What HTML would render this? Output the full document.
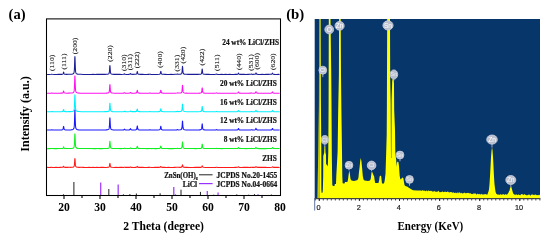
<!DOCTYPE html>
<html lang="en">
<head>
<meta charset="utf-8">
<title>XRD patterns and EDS spectrum</title>
<style>
html,body{margin:0;padding:0;background:#fff;}
body{width:550px;height:240px;overflow:hidden;}
svg{display:block;}
</style>
</head>
<body>
<svg width="550" height="240" viewBox="0 0 550 240">
<rect x="0" y="0" width="550" height="240" fill="#ffffff"/>
<g id="panel-a">
<text x="8.6" y="18.9" font-family='"Liberation Serif", serif' font-weight="700" font-size="14.6" fill="#000">(a)</text>
<line x1="63.46" y1="195.50" x2="63.46" y2="194.30" stroke="#222" stroke-width="1"/>
<line x1="73.90" y1="195.50" x2="73.90" y2="182.00" stroke="#222" stroke-width="1"/>
<line x1="108.82" y1="195.50" x2="108.82" y2="189.00" stroke="#222" stroke-width="1"/>
<line x1="123.40" y1="195.50" x2="123.40" y2="194.30" stroke="#222" stroke-width="1"/>
<line x1="129.88" y1="195.50" x2="129.88" y2="194.10" stroke="#222" stroke-width="1"/>
<line x1="136.36" y1="195.50" x2="136.36" y2="193.50" stroke="#222" stroke-width="1"/>
<line x1="160.12" y1="195.50" x2="160.12" y2="193.30" stroke="#222" stroke-width="1"/>
<line x1="175.60" y1="195.50" x2="175.60" y2="194.50" stroke="#222" stroke-width="1"/>
<line x1="181.00" y1="195.50" x2="181.00" y2="189.70" stroke="#222" stroke-width="1"/>
<line x1="200.44" y1="195.50" x2="200.44" y2="191.90" stroke="#222" stroke-width="1"/>
<line x1="213.76" y1="195.50" x2="213.76" y2="194.70" stroke="#222" stroke-width="1"/>
<line x1="236.80" y1="195.50" x2="236.80" y2="194.30" stroke="#222" stroke-width="1"/>
<line x1="248.68" y1="195.50" x2="248.68" y2="194.70" stroke="#222" stroke-width="1"/>
<line x1="254.44" y1="195.50" x2="254.44" y2="194.10" stroke="#222" stroke-width="1"/>
<line x1="271.36" y1="195.50" x2="271.36" y2="194.50" stroke="#222" stroke-width="1"/>
<line x1="100.72" y1="195.50" x2="100.72" y2="182.50" stroke="#9a30ff" stroke-width="1.2"/>
<line x1="118.18" y1="195.50" x2="118.18" y2="184.50" stroke="#9a30ff" stroke-width="1.2"/>
<line x1="173.80" y1="195.50" x2="173.80" y2="187.00" stroke="#9a30ff" stroke-width="1.2"/>
<line x1="207.28" y1="195.50" x2="207.28" y2="190.90" stroke="#9a30ff" stroke-width="1.2"/>
<line x1="218.08" y1="195.50" x2="218.08" y2="192.60" stroke="#9a30ff" stroke-width="1.2"/>
<line x1="258.04" y1="195.50" x2="258.04" y2="194.20" stroke="#9a30ff" stroke-width="1.2"/>
<path d="M47.10 74.41 L49.10 74.40 L51.10 74.34 L51.41 74.30 L51.56 74.22 L51.86 74.17 L51.96 74.25 L52.26 74.35 L54.60 74.42 L56.60 74.41 L58.60 74.37 L60.60 74.37 L61.60 74.36 L62.00 74.29 L62.10 74.33 L62.60 74.22 L62.90 74.03 L63.10 73.72 L63.25 73.22 L63.40 72.64 L63.50 72.28 L63.60 72.14 L63.70 72.27 L63.80 72.56 L63.95 73.20 L64.10 73.66 L64.30 74.01 L64.60 74.19 L65.10 74.29 L66.60 74.37 L68.60 74.32 L70.60 74.32 L71.60 74.25 L72.10 74.19 L72.51 74.07 L72.60 74.08 L73.10 73.88 L73.31 73.74 L73.60 73.42 L73.91 72.91 L74.10 72.21 L74.21 71.49 L74.41 68.74 L74.56 64.84 L74.60 63.57 L74.71 60.06 L74.81 57.54 L74.91 56.61 L75.01 57.58 L75.10 59.84 L75.11 60.19 L75.26 65.01 L75.41 68.86 L75.60 71.46 L75.61 71.53 L75.91 72.89 L76.10 73.30 L76.51 73.77 L76.60 73.80 L77.10 74.04 L77.60 74.12 L78.10 74.21 L79.10 74.28 L81.10 74.33 L83.10 74.40 L85.10 74.40 L87.10 74.43 L89.10 74.43 L91.10 74.41 L93.10 74.38 L95.10 74.42 L97.10 74.38 L99.10 74.39 L101.10 74.39 L103.10 74.39 L105.10 74.36 L106.60 74.30 L107.50 74.22 L107.60 74.21 L108.10 74.11 L108.30 74.05 L108.60 73.93 L108.90 73.65 L109.10 73.29 L109.20 72.99 L109.40 71.63 L109.55 69.68 L109.60 68.88 L109.70 67.24 L109.80 65.96 L109.90 65.50 L110.00 65.96 L110.10 67.22 L110.25 69.64 L110.40 71.61 L110.60 72.97 L110.90 73.66 L111.10 73.86 L111.50 74.09 L111.60 74.09 L112.10 74.19 L112.60 74.28 L113.60 74.36 L115.60 74.36 L117.60 74.39 L119.60 74.39 L121.60 74.41 L123.10 74.34 L124.02 74.25 L124.10 74.20 L124.17 74.08 L124.32 73.96 L124.42 73.89 L124.62 73.87 L124.72 73.95 L124.87 74.13 L125.02 74.25 L125.22 74.33 L126.12 74.40 L128.60 74.37 L129.79 74.29 L129.99 74.12 L130.10 74.04 L130.14 73.97 L130.29 73.74 L130.39 73.63 L130.60 73.64 L130.69 73.73 L130.84 73.99 L130.99 74.13 L131.10 74.23 L131.49 74.31 L132.89 74.37 L134.90 74.35 L135.70 74.27 L136.10 74.19 L136.30 74.17 L136.60 73.93 L136.80 73.46 L136.95 72.84 L137.10 72.11 L137.20 71.72 L137.30 71.55 L137.40 71.74 L137.50 72.15 L137.60 72.67 L137.65 72.89 L137.80 73.50 L138.00 73.92 L138.10 74.07 L138.30 74.15 L138.60 74.24 L138.90 74.31 L140.60 74.38 L142.60 74.39 L144.60 74.40 L146.60 74.42 L148.44 74.36 L149.54 74.34 L149.60 74.28 L149.69 74.27 L149.84 74.21 L150.04 74.11 L150.24 74.20 L150.39 74.23 L150.54 74.31 L150.60 74.32 L150.74 74.38 L153.10 74.42 L155.10 74.40 L157.10 74.40 L159.10 74.32 L159.20 74.30 L159.60 74.22 L159.80 74.13 L160.10 73.93 L160.30 73.46 L160.45 72.83 L160.60 72.00 L160.70 71.58 L160.80 71.39 L160.90 71.56 L161.00 71.94 L161.10 72.49 L161.15 72.79 L161.30 73.44 L161.50 73.88 L161.60 74.04 L161.80 74.12 L162.10 74.24 L162.60 74.29 L163.10 74.35 L165.10 74.37 L167.10 74.42 L169.10 74.41 L171.10 74.37 L173.10 74.40 L175.10 74.35 L176.81 74.34 L177.01 74.26 L177.16 74.16 L177.31 74.07 L177.41 74.00 L177.71 74.06 L177.86 74.18 L178.01 74.27 L180.10 74.27 L180.60 74.20 L180.91 74.08 L181.10 74.05 L181.51 73.70 L181.60 73.58 L181.81 73.10 L182.01 71.88 L182.10 70.93 L182.16 70.18 L182.31 67.99 L182.41 66.84 L182.51 66.37 L182.60 66.71 L182.61 66.79 L182.71 67.93 L182.86 70.08 L183.01 71.85 L183.10 72.54 L183.21 73.11 L183.51 73.75 L183.60 73.83 L184.10 74.10 L184.11 74.12 L184.60 74.20 L185.10 74.27 L186.10 74.34 L188.10 74.37 L190.10 74.37 L192.10 74.37 L194.10 74.39 L196.10 74.37 L198.10 74.39 L199.60 74.31 L200.10 74.30 L200.60 74.21 L201.10 74.00 L201.20 73.93 L201.50 73.52 L201.60 73.23 L201.70 72.72 L201.85 71.55 L202.00 70.08 L202.10 69.31 L202.20 68.95 L202.30 69.26 L202.40 69.98 L202.55 71.45 L202.60 71.95 L202.70 72.67 L202.90 73.49 L203.10 73.82 L203.20 73.94 L203.60 74.15 L204.10 74.23 L204.60 74.32 L206.60 74.39 L208.60 74.37 L210.60 74.42 L212.60 74.40 L214.60 74.42 L215.60 74.34 L215.80 74.33 L216.00 74.26 L216.15 74.22 L216.30 74.12 L216.40 74.03 L216.70 74.12 L216.85 74.23 L217.00 74.32 L217.20 74.32 L217.50 74.38 L219.60 74.40 L221.60 74.37 L223.60 74.43 L225.60 74.39 L227.60 74.42 L229.60 74.38 L231.60 74.41 L233.60 74.41 L235.60 74.36 L237.10 74.36 L237.49 74.30 L237.60 74.29 L237.79 74.20 L237.99 74.00 L238.10 73.78 L238.14 73.67 L238.29 73.32 L238.39 73.15 L238.49 73.07 L238.59 73.13 L238.60 73.16 L238.69 73.33 L238.84 73.71 L238.99 73.99 L239.10 74.08 L239.19 74.20 L239.49 74.29 L240.10 74.37 L242.10 74.37 L244.10 74.38 L246.10 74.42 L248.10 74.36 L250.10 74.35 L251.10 74.24 L251.14 74.25 L251.29 74.12 L251.49 74.05 L251.69 74.16 L251.84 74.24 L252.10 74.31 L252.49 74.39 L254.60 74.30 L255.10 74.22 L255.29 74.15 L255.49 73.93 L255.60 73.70 L255.64 73.56 L255.79 73.17 L255.89 72.98 L255.99 72.91 L256.10 72.98 L256.19 73.19 L256.34 73.61 L256.49 73.92 L256.60 74.05 L256.69 74.17 L256.99 74.30 L258.10 74.38 L260.10 74.40 L262.10 74.38 L264.10 74.41 L266.10 74.37 L268.10 74.36 L270.10 74.35 L271.60 74.29 L271.81 74.16 L272.01 73.97 L272.10 73.85 L272.16 73.68 L272.31 73.34 L272.41 73.15 L272.51 73.08 L272.60 73.14 L272.61 73.16 L272.71 73.34 L272.86 73.69 L273.01 73.95 L273.10 74.11 L273.21 74.15 L273.51 74.30 L274.60 74.37 L276.60 74.40 L278.60 74.38 L279.60 74.42" fill="none" stroke="#1c1c96" stroke-width="1.05" stroke-linejoin="round"/>
<text x="279.0" y="44.5" text-anchor="end" font-family='"Liberation Serif", serif' font-weight="700" font-size="7.3" fill="#111" stroke="#111" stroke-width="0.2">24 wt% LiCl/ZHS</text>
<path d="M47.10 93.23 L49.10 93.17 L51.10 93.18 L51.26 93.16 L51.41 93.07 L51.56 93.01 L52.11 93.06 L52.26 93.14 L53.36 93.21 L55.60 93.21 L57.60 93.21 L59.60 93.21 L61.10 93.14 L62.10 93.13 L62.60 93.04 L62.90 92.85 L63.10 92.50 L63.25 92.05 L63.40 91.47 L63.50 91.14 L63.60 91.00 L63.70 91.11 L63.80 91.41 L63.95 91.99 L64.10 92.48 L64.30 92.85 L64.60 92.98 L65.10 93.10 L66.60 93.16 L68.60 93.14 L70.60 93.10 L71.41 93.03 L71.60 93.02 L72.10 92.94 L72.60 92.87 L73.10 92.66 L73.31 92.53 L73.60 92.24 L73.91 91.75 L74.10 91.07 L74.21 90.39 L74.41 87.71 L74.56 83.85 L74.60 82.63 L74.71 79.14 L74.81 76.72 L74.91 75.78 L75.01 76.79 L75.10 79.01 L75.11 79.27 L75.26 83.97 L75.41 87.79 L75.60 90.31 L75.61 90.39 L75.91 91.75 L76.10 92.11 L76.51 92.57 L76.60 92.63 L77.10 92.85 L77.60 92.95 L78.10 93.04 L79.60 93.14 L81.60 93.16 L83.60 93.17 L85.60 93.17 L87.60 93.17 L89.60 93.21 L91.60 93.22 L93.60 93.18 L95.60 93.18 L97.60 93.20 L99.60 93.18 L101.60 93.20 L103.60 93.18 L105.60 93.17 L106.10 93.11 L107.10 93.11 L107.50 93.02 L107.60 93.04 L108.10 92.91 L108.30 92.87 L108.60 92.71 L108.90 92.48 L109.10 92.09 L109.20 91.81 L109.40 90.47 L109.55 88.55 L109.60 87.77 L109.70 86.23 L109.80 84.99 L109.90 84.51 L110.00 84.97 L110.10 86.22 L110.25 88.59 L110.40 90.48 L110.60 91.78 L110.90 92.44 L111.10 92.69 L111.50 92.87 L111.60 92.89 L112.10 93.05 L112.30 93.03 L112.60 93.10 L114.60 93.16 L116.60 93.18 L118.60 93.19 L120.60 93.19 L122.60 93.21 L123.60 93.14 L123.82 93.14 L124.02 93.02 L124.17 92.92 L124.32 92.80 L124.42 92.70 L124.72 92.76 L124.87 92.89 L125.02 93.02 L125.10 93.06 L125.22 93.13 L126.60 93.20 L128.60 93.18 L129.60 93.09 L129.79 93.08 L129.99 92.96 L130.10 92.83 L130.14 92.79 L130.29 92.59 L130.39 92.47 L130.60 92.45 L130.69 92.54 L130.84 92.79 L130.99 92.93 L131.10 93.05 L131.49 93.12 L133.10 93.19 L134.90 93.12 L136.10 93.03 L136.30 92.98 L136.60 92.73 L136.80 92.34 L136.95 91.68 L137.10 90.96 L137.20 90.55 L137.30 90.39 L137.40 90.57 L137.50 90.97 L137.60 91.50 L137.65 91.77 L137.80 92.36 L138.00 92.77 L138.10 92.85 L138.30 92.97 L138.60 93.05 L138.90 93.07 L139.10 93.14 L140.60 93.20 L142.60 93.18 L144.60 93.20 L146.60 93.22 L148.60 93.22 L149.54 93.11 L149.60 93.10 L149.69 93.03 L149.94 92.97 L150.24 92.99 L150.39 93.07 L150.54 93.14 L150.60 93.11 L150.74 93.18 L153.10 93.17 L155.10 93.17 L157.10 93.16 L159.10 93.12 L159.20 93.11 L159.60 93.04 L159.80 92.96 L160.10 92.71 L160.30 92.27 L160.45 91.63 L160.60 90.83 L160.70 90.43 L160.80 90.24 L160.90 90.39 L161.00 90.79 L161.10 91.34 L161.15 91.62 L161.30 92.25 L161.50 92.69 L161.60 92.84 L161.80 92.93 L162.10 93.07 L163.10 93.13 L165.10 93.20 L167.10 93.18 L169.10 93.18 L171.10 93.19 L173.10 93.21 L175.10 93.15 L176.81 93.10 L177.01 93.04 L177.10 93.03 L177.16 92.96 L177.31 92.87 L177.41 92.79 L177.71 92.84 L177.86 92.94 L178.01 93.01 L178.10 93.09 L180.10 93.07 L180.11 93.08 L180.60 93.01 L180.91 92.89 L181.10 92.84 L181.51 92.54 L181.60 92.45 L181.81 91.95 L182.01 90.77 L182.10 89.81 L182.16 89.07 L182.31 86.95 L182.41 85.78 L182.51 85.37 L182.60 85.68 L182.61 85.77 L182.71 86.91 L182.86 89.01 L183.01 90.72 L183.10 91.38 L183.21 91.93 L183.51 92.52 L183.60 92.62 L184.10 92.92 L184.11 92.88 L184.60 93.05 L185.60 93.15 L186.60 93.12 L187.10 93.19 L189.10 93.20 L191.10 93.20 L193.10 93.17 L195.10 93.21 L197.10 93.17 L199.10 93.17 L199.60 93.10 L200.10 93.10 L200.60 93.02 L201.10 92.80 L201.20 92.75 L201.50 92.36 L201.60 92.02 L201.70 91.57 L201.85 90.41 L202.00 88.97 L202.10 88.19 L202.20 87.88 L202.30 88.15 L202.40 88.91 L202.55 90.35 L202.60 90.80 L202.70 91.49 L202.90 92.32 L203.10 92.64 L203.20 92.77 L203.60 92.95 L203.80 92.98 L204.10 93.05 L204.60 93.13 L206.60 93.18 L208.60 93.21 L210.60 93.21 L212.60 93.18 L214.60 93.16 L216.10 93.06 L216.15 93.02 L216.30 92.95 L216.40 92.88 L216.60 92.86 L216.70 92.92 L216.85 93.01 L217.00 93.09 L217.50 93.18 L219.60 93.20 L221.60 93.19 L223.60 93.20 L225.60 93.20 L227.60 93.21 L229.60 93.20 L231.60 93.19 L233.60 93.17 L235.60 93.16 L237.49 93.09 L237.60 93.06 L237.79 92.97 L237.99 92.79 L238.10 92.60 L238.14 92.48 L238.29 92.17 L238.39 91.96 L238.60 92.00 L238.69 92.12 L238.84 92.51 L238.99 92.81 L239.10 92.93 L239.19 92.99 L239.49 93.12 L240.60 93.18 L242.60 93.21 L244.60 93.22 L246.60 93.20 L248.60 93.18 L250.60 93.14 L250.79 93.15 L250.99 93.07 L251.14 93.03 L251.29 92.96 L251.60 92.89 L251.69 92.95 L251.84 93.04 L251.99 93.10 L253.09 93.18 L254.60 93.15 L254.99 93.05 L255.29 92.99 L255.49 92.76 L255.60 92.48 L255.64 92.40 L255.79 92.02 L255.89 91.82 L255.99 91.74 L256.09 91.82 L256.10 91.80 L256.19 92.03 L256.34 92.44 L256.49 92.71 L256.60 92.87 L256.69 92.98 L256.99 93.05 L257.59 93.13 L259.10 93.20 L261.10 93.17 L263.10 93.22 L265.10 93.22 L267.10 93.17 L269.10 93.18 L271.10 93.13 L271.60 93.10 L271.81 92.98 L272.01 92.78 L272.10 92.61 L272.16 92.52 L272.31 92.13 L272.41 91.97 L272.51 91.90 L272.60 91.93 L272.61 91.99 L272.71 92.13 L272.86 92.49 L273.01 92.80 L273.10 92.88 L273.21 93.00 L273.51 93.09 L274.11 93.17 L276.60 93.20 L278.60 93.17 L279.60 93.18" fill="none" stroke="#ff10f0" stroke-width="1.05" stroke-linejoin="round"/>
<text x="276.8" y="86.1" text-anchor="end" font-family='"Liberation Serif", serif' font-weight="700" font-size="7.3" fill="#111" stroke="#111" stroke-width="0.2">20 wt% LiCl/ZHS</text>
<path d="M47.10 111.71 L49.10 111.68 L51.10 111.68 L51.26 111.61 L51.56 111.53 L52.26 111.62 L52.76 111.68 L55.10 111.69 L57.10 111.71 L59.10 111.69 L61.10 111.66 L61.60 111.67 L62.00 111.60 L62.10 111.61 L62.60 111.50 L62.90 111.36 L63.10 111.06 L63.25 110.58 L63.40 109.99 L63.50 109.66 L63.60 109.53 L63.70 109.67 L63.80 109.97 L63.95 110.56 L64.10 111.00 L64.30 111.35 L64.60 111.52 L65.10 111.62 L66.10 111.61 L66.60 111.67 L68.60 111.63 L70.60 111.63 L71.10 111.56 L72.10 111.46 L72.60 111.37 L73.10 111.18 L73.31 111.06 L73.60 110.76 L73.91 110.27 L74.10 109.58 L74.21 108.91 L74.41 106.34 L74.56 102.62 L74.60 101.37 L74.71 97.97 L74.81 95.62 L74.91 94.71 L75.01 95.65 L75.10 97.84 L75.11 98.09 L75.26 102.71 L75.41 106.42 L75.60 108.89 L75.61 108.96 L75.91 110.27 L76.10 110.62 L76.51 111.09 L76.60 111.11 L77.10 111.36 L77.60 111.45 L78.10 111.53 L79.60 111.60 L81.10 111.68 L83.10 111.68 L85.10 111.68 L87.10 111.71 L89.10 111.68 L91.10 111.70 L93.10 111.73 L95.10 111.70 L97.10 111.69 L99.10 111.69 L101.10 111.66 L103.10 111.68 L105.10 111.64 L107.10 111.61 L107.60 111.52 L108.10 111.42 L108.30 111.38 L108.60 111.24 L108.90 110.98 L109.10 110.65 L109.20 110.34 L109.40 109.05 L109.55 107.16 L109.60 106.42 L109.70 104.87 L109.80 103.67 L109.90 103.20 L110.00 103.69 L110.10 104.90 L110.25 107.15 L110.40 109.04 L110.60 110.35 L110.90 110.97 L111.10 111.15 L111.50 111.40 L111.60 111.41 L112.10 111.53 L112.60 111.61 L114.60 111.66 L116.60 111.65 L118.60 111.70 L120.60 111.71 L122.60 111.66 L123.60 111.67 L123.82 111.59 L124.02 111.55 L124.10 111.48 L124.17 111.41 L124.32 111.26 L124.52 111.19 L124.72 111.26 L124.87 111.40 L125.02 111.56 L125.22 111.63 L126.60 111.71 L128.60 111.65 L129.79 111.59 L129.99 111.46 L130.10 111.35 L130.14 111.31 L130.29 111.08 L130.39 110.99 L130.60 110.97 L130.69 111.10 L130.84 111.27 L130.99 111.47 L131.10 111.55 L131.19 111.54 L131.49 111.64 L133.60 111.64 L135.60 111.60 L135.70 111.62 L136.10 111.54 L136.30 111.49 L136.60 111.24 L136.80 110.83 L136.95 110.25 L137.10 109.47 L137.20 109.13 L137.30 108.98 L137.40 109.16 L137.50 109.55 L137.60 110.01 L137.65 110.28 L137.80 110.88 L138.00 111.26 L138.10 111.37 L138.30 111.45 L138.60 111.58 L138.90 111.57 L139.10 111.64 L141.10 111.69 L143.10 111.66 L145.10 111.67 L147.10 111.72 L149.10 111.69 L149.34 111.66 L149.54 111.59 L149.84 111.51 L150.04 111.43 L150.24 111.52 L150.39 111.59 L150.74 111.67 L153.10 111.68 L155.10 111.70 L157.10 111.71 L158.10 111.64 L158.60 111.66 L159.10 111.58 L159.60 111.54 L159.80 111.46 L160.10 111.23 L160.30 110.83 L160.45 110.18 L160.60 109.40 L160.70 108.98 L160.80 108.83 L160.90 108.94 L161.00 109.34 L161.10 109.86 L161.15 110.15 L161.30 110.77 L161.50 111.23 L161.60 111.32 L161.80 111.48 L162.40 111.56 L163.10 111.64 L165.10 111.70 L167.10 111.72 L169.10 111.72 L171.10 111.68 L173.10 111.72 L175.10 111.70 L176.10 111.64 L177.01 111.58 L177.10 111.49 L177.16 111.45 L177.31 111.38 L177.51 111.27 L177.71 111.34 L177.86 111.45 L178.01 111.55 L178.51 111.62 L180.10 111.56 L180.11 111.53 L180.60 111.46 L181.01 111.38 L181.10 111.33 L181.51 111.06 L181.60 110.94 L181.81 110.49 L182.01 109.31 L182.10 108.40 L182.16 107.68 L182.31 105.60 L182.41 104.45 L182.51 104.03 L182.60 104.35 L182.61 104.44 L182.71 105.51 L182.86 107.58 L183.01 109.25 L183.10 109.96 L183.21 110.44 L183.51 111.06 L183.60 111.13 L184.10 111.42 L184.11 111.41 L184.60 111.50 L185.10 111.60 L186.60 111.66 L188.60 111.67 L190.60 111.69 L192.60 111.71 L194.60 111.71 L196.60 111.68 L198.60 111.65 L200.10 111.59 L200.60 111.52 L201.10 111.35 L201.20 111.26 L201.50 110.88 L201.60 110.56 L201.70 110.12 L201.85 108.99 L202.00 107.55 L202.10 106.84 L202.20 106.51 L202.30 106.78 L202.40 107.51 L202.55 108.88 L202.60 109.35 L202.70 110.03 L202.90 110.87 L203.10 111.20 L203.20 111.24 L203.60 111.46 L203.80 111.53 L204.60 111.61 L205.60 111.68 L207.60 111.69 L209.60 111.67 L211.60 111.68 L213.60 111.67 L215.60 111.67 L216.00 111.59 L216.15 111.50 L216.30 111.40 L216.70 111.43 L216.85 111.51 L217.00 111.61 L217.50 111.68 L219.60 111.72 L221.60 111.72 L223.60 111.68 L225.60 111.67 L227.60 111.70 L229.60 111.67 L231.60 111.70 L233.60 111.67 L235.60 111.69 L236.89 111.62 L237.60 111.56 L237.79 111.46 L237.99 111.31 L238.10 111.11 L238.14 111.01 L238.29 110.70 L238.39 110.51 L238.49 110.40 L238.59 110.47 L238.60 110.50 L238.69 110.70 L238.84 110.99 L238.99 111.28 L239.10 111.41 L239.19 111.46 L239.49 111.57 L240.09 111.67 L242.10 111.68 L244.10 111.72 L246.10 111.68 L248.10 111.68 L250.10 111.68 L251.10 111.57 L251.29 111.47 L251.49 111.41 L251.69 111.44 L251.84 111.51 L251.99 111.62 L253.10 111.69 L254.60 111.63 L255.10 111.57 L255.29 111.44 L255.49 111.24 L255.60 110.99 L255.64 110.93 L255.79 110.53 L255.89 110.34 L255.99 110.28 L256.10 110.33 L256.19 110.55 L256.34 110.91 L256.49 111.23 L256.60 111.40 L256.69 111.46 L256.99 111.55 L257.59 111.62 L258.60 111.69 L260.60 111.71 L262.60 111.67 L264.60 111.69 L266.60 111.72 L268.60 111.71 L270.60 111.69 L271.51 111.61 L271.81 111.52 L272.01 111.31 L272.10 111.13 L272.16 111.01 L272.31 110.70 L272.41 110.51 L272.51 110.41 L272.60 110.49 L272.61 110.46 L272.71 110.69 L272.86 110.99 L273.01 111.30 L273.10 111.42 L273.21 111.50 L273.51 111.61 L273.60 111.59 L274.10 111.67 L276.10 111.67 L278.10 111.71 L279.60 111.69" fill="none" stroke="#00f0ff" stroke-width="1.05" stroke-linejoin="round"/>
<text x="276.8" y="105.4" text-anchor="end" font-family='"Liberation Serif", serif' font-weight="700" font-size="7.3" fill="#111" stroke="#111" stroke-width="0.2">16 wt% LiCl/ZHS</text>
<path d="M47.10 129.99 L49.10 129.98 L51.10 129.98 L51.41 129.89 L51.60 129.78 L52.10 129.84 L52.11 129.85 L52.26 129.94 L54.60 130.01 L56.60 130.01 L58.60 130.01 L60.60 129.97 L61.60 129.92 L62.00 129.86 L62.10 129.87 L62.60 129.67 L62.90 129.41 L63.10 128.85 L63.25 128.09 L63.40 127.10 L63.50 126.56 L63.60 126.37 L63.70 126.57 L63.80 127.03 L63.95 128.01 L64.10 128.84 L64.30 129.41 L64.60 129.65 L65.10 129.82 L65.60 129.90 L67.60 129.92 L69.60 129.90 L71.10 129.88 L71.41 129.80 L71.60 129.81 L72.10 129.71 L72.51 129.63 L72.60 129.60 L73.10 129.38 L73.31 129.24 L73.60 128.93 L73.91 128.33 L74.10 127.53 L74.21 126.74 L74.41 123.66 L74.56 119.26 L74.60 117.88 L74.71 113.85 L74.81 111.07 L74.91 109.99 L75.01 111.11 L75.10 113.68 L75.11 114.00 L75.26 119.39 L75.41 123.75 L75.60 126.68 L75.61 126.79 L75.91 128.34 L76.10 128.75 L76.51 129.26 L76.60 129.34 L77.10 129.60 L77.31 129.67 L77.60 129.71 L78.10 129.79 L78.60 129.86 L80.60 129.94 L82.60 129.96 L84.60 129.96 L86.60 129.99 L88.60 130.01 L90.60 130.01 L92.60 130.02 L94.60 130.02 L96.60 129.98 L98.60 129.99 L100.60 130.00 L102.60 129.97 L104.60 129.97 L106.10 129.94 L106.40 129.88 L107.50 129.81 L107.60 129.76 L108.10 129.61 L108.30 129.52 L108.60 129.36 L108.90 128.95 L109.10 128.45 L109.20 128.01 L109.40 126.17 L109.55 123.53 L109.60 122.40 L109.70 120.22 L109.80 118.47 L109.90 117.80 L110.00 118.47 L110.10 120.18 L110.25 123.52 L110.40 126.19 L110.60 128.02 L110.90 128.96 L111.10 129.22 L111.50 129.53 L111.60 129.57 L112.10 129.72 L112.30 129.79 L112.60 129.83 L113.10 129.90 L115.10 129.97 L117.10 130.00 L119.10 130.01 L121.10 129.99 L123.10 129.95 L123.60 129.88 L123.82 129.87 L124.02 129.72 L124.10 129.62 L124.17 129.51 L124.32 129.28 L124.42 129.16 L124.62 129.15 L124.72 129.25 L124.87 129.50 L125.02 129.69 L125.10 129.76 L125.22 129.82 L125.52 129.91 L125.60 129.91 L126.10 129.98 L128.10 129.97 L129.10 129.94 L129.49 129.86 L129.60 129.84 L129.79 129.78 L129.99 129.53 L130.10 129.33 L130.14 129.22 L130.29 128.84 L130.39 128.63 L130.49 128.54 L130.59 128.63 L130.60 128.66 L130.69 128.85 L130.84 129.19 L130.99 129.53 L131.10 129.70 L131.19 129.73 L131.49 129.88 L132.10 129.94 L134.10 129.94 L135.10 129.93 L135.60 129.86 L135.70 129.82 L136.10 129.74 L136.30 129.64 L136.60 129.33 L136.80 128.74 L136.95 127.81 L137.10 126.74 L137.20 126.22 L137.30 125.98 L137.40 126.24 L137.50 126.83 L137.60 127.51 L137.65 127.89 L137.80 128.74 L138.00 129.38 L138.10 129.48 L138.30 129.69 L138.60 129.80 L139.10 129.91 L140.80 129.97 L143.10 129.96 L145.10 130.00 L147.10 130.00 L149.10 129.96 L149.54 129.93 L149.60 129.85 L149.84 129.77 L150.04 129.70 L150.14 129.71 L150.24 129.78 L150.39 129.87 L150.60 129.90 L150.74 129.97 L153.10 129.98 L155.10 130.01 L157.10 130.00 L158.10 129.94 L159.20 129.84 L159.60 129.77 L159.80 129.66 L160.10 129.39 L160.30 128.87 L160.45 128.05 L160.60 127.04 L160.70 126.46 L160.80 126.25 L160.90 126.48 L161.00 126.99 L161.10 127.66 L161.15 127.99 L161.30 128.80 L161.50 129.39 L161.60 129.54 L161.80 129.71 L162.10 129.79 L162.40 129.87 L163.10 129.93 L163.20 129.91 L163.60 129.98 L165.60 129.98 L167.60 129.96 L169.60 129.98 L171.60 129.98 L173.60 129.96 L175.60 129.97 L176.81 129.93 L177.01 129.84 L177.10 129.79 L177.16 129.70 L177.31 129.61 L177.51 129.54 L177.61 129.56 L177.71 129.63 L177.86 129.75 L178.01 129.79 L178.10 129.85 L178.60 129.92 L179.91 129.84 L180.60 129.76 L180.91 129.64 L181.10 129.60 L181.51 129.26 L181.60 129.10 L181.81 128.52 L182.01 127.20 L182.10 126.10 L182.16 125.24 L182.31 122.78 L182.41 121.53 L182.51 121.00 L182.60 121.36 L182.61 121.48 L182.71 122.76 L182.86 125.21 L183.01 127.17 L183.10 127.94 L183.21 128.52 L183.51 129.25 L183.60 129.34 L184.10 129.68 L184.11 129.66 L184.60 129.77 L184.91 129.83 L186.01 129.90 L186.60 129.97 L188.60 130.00 L190.60 129.97 L192.60 129.97 L194.60 130.00 L196.60 129.97 L198.60 129.97 L199.10 129.96 L199.60 129.88 L200.60 129.80 L201.10 129.56 L201.20 129.47 L201.50 129.03 L201.60 128.69 L201.70 128.13 L201.85 126.82 L202.00 125.13 L202.10 124.28 L202.20 123.88 L202.30 124.21 L202.40 125.06 L202.55 126.71 L202.60 127.22 L202.70 128.04 L202.90 128.99 L203.10 129.39 L203.20 129.47 L203.60 129.72 L204.10 129.82 L204.60 129.88 L205.10 129.94 L207.10 129.97 L209.10 129.99 L211.10 129.96 L213.10 130.01 L215.10 129.95 L215.80 129.95 L216.00 129.86 L216.10 129.79 L216.15 129.80 L216.30 129.70 L216.40 129.60 L216.60 129.59 L216.70 129.68 L216.85 129.78 L217.00 129.89 L217.50 129.98 L217.60 129.95 L218.10 130.01 L220.10 130.02 L222.10 129.97 L224.10 130.01 L226.10 129.98 L228.10 130.02 L230.10 129.98 L232.10 130.01 L234.10 130.01 L236.09 129.95 L237.49 129.85 L237.60 129.86 L237.79 129.74 L237.99 129.50 L238.10 129.32 L238.14 129.24 L238.29 128.82 L238.39 128.56 L238.59 128.55 L238.60 128.62 L238.69 128.78 L238.84 129.22 L238.99 129.54 L239.10 129.67 L239.19 129.78 L239.49 129.88 L239.60 129.87 L240.09 129.93 L240.60 129.94 L240.89 130.00 L243.10 130.01 L245.10 129.96 L247.10 129.99 L249.10 129.97 L250.99 129.90 L251.10 129.80 L251.14 129.78 L251.29 129.69 L251.69 129.73 L251.84 129.80 L251.99 129.88 L252.49 129.98 L254.39 129.92 L255.10 129.83 L255.29 129.69 L255.49 129.47 L255.60 129.21 L255.64 129.09 L255.79 128.65 L255.89 128.36 L255.99 128.33 L256.09 128.39 L256.10 128.39 L256.19 128.65 L256.34 129.09 L256.49 129.48 L256.60 129.65 L256.69 129.74 L256.99 129.88 L257.10 129.86 L257.59 129.92 L257.60 129.91 L258.10 129.99 L260.10 129.96 L262.10 129.99 L264.10 129.99 L266.10 130.00 L268.10 130.00 L270.10 129.99 L271.51 129.87 L271.60 129.87 L271.81 129.78 L272.01 129.51 L272.10 129.35 L272.16 129.21 L272.31 128.80 L272.41 128.57 L272.51 128.52 L272.60 128.58 L272.61 128.56 L272.71 128.79 L272.86 129.19 L273.01 129.51 L273.10 129.63 L273.21 129.73 L273.51 129.90 L274.11 129.92 L274.60 129.99 L276.60 129.99 L278.60 129.97 L279.60 130.00" fill="none" stroke="#1818ff" stroke-width="1.05" stroke-linejoin="round"/>
<text x="276.8" y="123.2" text-anchor="end" font-family='"Liberation Serif", serif' font-weight="700" font-size="7.3" fill="#111" stroke="#111" stroke-width="0.2">12 wt% LiCl/ZHS</text>
<path d="M47.10 148.60 L49.10 148.61 L51.10 148.56 L51.41 148.52 L51.56 148.44 L51.86 148.41 L51.96 148.48 L52.11 148.48 L52.26 148.56 L54.60 148.61 L56.60 148.60 L58.60 148.56 L60.60 148.59 L62.10 148.52 L62.60 148.42 L62.90 148.29 L63.10 148.04 L63.25 147.61 L63.40 147.12 L63.50 146.85 L63.60 146.72 L63.70 146.84 L63.80 147.09 L63.95 147.57 L64.10 148.00 L64.30 148.28 L64.60 148.43 L65.20 148.50 L66.10 148.58 L68.10 148.54 L70.10 148.51 L72.10 148.43 L72.51 148.33 L72.60 148.31 L73.10 148.16 L73.31 148.07 L73.60 147.79 L73.91 147.35 L74.10 146.77 L74.21 146.16 L74.41 143.89 L74.56 140.65 L74.60 139.64 L74.71 136.67 L74.81 134.57 L74.91 133.83 L75.01 134.61 L75.10 136.53 L75.11 136.78 L75.26 140.78 L75.41 143.99 L75.60 146.12 L75.61 146.21 L75.91 147.35 L76.10 147.67 L76.51 148.08 L76.60 148.11 L77.10 148.27 L77.60 148.37 L78.10 148.47 L79.60 148.54 L81.60 148.57 L83.60 148.58 L85.60 148.59 L87.60 148.58 L89.60 148.59 L91.60 148.58 L93.60 148.63 L95.60 148.62 L97.60 148.60 L99.60 148.61 L101.60 148.61 L103.60 148.55 L105.60 148.53 L106.60 148.56 L107.10 148.49 L108.10 148.39 L108.30 148.34 L108.60 148.19 L108.90 147.98 L109.10 147.67 L109.20 147.42 L109.40 146.25 L109.55 144.67 L109.60 143.98 L109.70 142.68 L109.80 141.59 L109.90 141.17 L110.00 141.61 L110.10 142.69 L110.25 144.67 L110.40 146.26 L110.60 147.42 L110.90 147.97 L111.10 148.16 L111.50 148.33 L111.60 148.34 L112.10 148.45 L112.60 148.52 L114.60 148.54 L116.60 148.57 L118.60 148.59 L120.60 148.61 L122.60 148.56 L123.60 148.56 L123.82 148.50 L124.10 148.44 L124.17 148.37 L124.32 148.24 L124.52 148.14 L124.62 148.16 L124.72 148.26 L124.87 148.39 L125.02 148.46 L125.10 148.52 L126.10 148.58 L128.10 148.57 L129.60 148.50 L129.79 148.46 L129.99 148.39 L130.10 148.31 L130.14 148.27 L130.29 148.04 L130.39 147.99 L130.49 147.93 L130.60 147.99 L130.69 148.06 L130.84 148.26 L130.99 148.38 L131.10 148.45 L131.19 148.49 L131.49 148.55 L133.60 148.55 L135.60 148.53 L136.10 148.47 L136.30 148.41 L136.60 148.24 L136.80 147.85 L136.95 147.32 L137.10 146.69 L137.20 146.33 L137.30 146.26 L137.40 146.37 L137.50 146.73 L137.60 147.14 L137.65 147.34 L137.80 147.85 L138.00 148.25 L138.10 148.32 L138.30 148.39 L138.60 148.44 L138.90 148.54 L141.10 148.56 L143.10 148.60 L145.10 148.58 L147.10 148.61 L149.10 148.56 L149.69 148.50 L149.84 148.41 L150.24 148.43 L150.39 148.50 L151.04 148.60 L153.10 148.59 L155.10 148.60 L157.10 148.60 L158.40 148.54 L159.60 148.46 L159.80 148.39 L160.10 148.17 L160.30 147.81 L160.45 147.27 L160.60 146.60 L160.70 146.21 L160.80 146.07 L160.90 146.20 L161.00 146.54 L161.10 147.00 L161.15 147.25 L161.30 147.82 L161.50 148.18 L161.60 148.26 L161.80 148.40 L162.10 148.46 L162.60 148.51 L163.10 148.58 L165.10 148.58 L167.10 148.60 L169.10 148.62 L171.10 148.58 L173.10 148.62 L174.60 148.56 L176.60 148.55 L177.01 148.47 L177.10 148.40 L177.16 148.42 L177.31 148.29 L177.71 148.28 L177.86 148.40 L178.10 148.51 L180.10 148.47 L180.11 148.50 L180.60 148.41 L180.91 148.35 L181.01 148.29 L181.10 148.29 L181.51 148.03 L181.60 147.93 L181.81 147.53 L182.01 146.52 L182.10 145.72 L182.16 145.05 L182.31 143.27 L182.41 142.32 L182.51 141.91 L182.60 142.25 L182.61 142.27 L182.71 143.22 L182.86 145.03 L183.01 146.49 L183.10 147.05 L183.21 147.49 L183.51 148.02 L183.60 148.10 L184.10 148.37 L184.11 148.36 L184.60 148.47 L185.10 148.48 L185.60 148.55 L187.60 148.56 L189.60 148.60 L191.60 148.58 L193.60 148.56 L195.60 148.61 L197.60 148.59 L199.60 148.52 L200.60 148.46 L201.10 148.29 L201.20 148.23 L201.50 147.85 L201.60 147.59 L201.70 147.22 L201.85 146.24 L202.00 144.98 L202.10 144.37 L202.20 144.10 L202.30 144.32 L202.40 144.97 L202.55 146.18 L202.60 146.55 L202.70 147.17 L202.90 147.83 L203.10 148.15 L203.20 148.23 L203.60 148.36 L203.80 148.43 L204.60 148.51 L205.70 148.58 L208.10 148.57 L210.10 148.59 L212.10 148.58 L214.10 148.57 L216.00 148.51 L216.10 148.45 L216.15 148.46 L216.30 148.37 L216.40 148.31 L216.70 148.35 L216.85 148.43 L217.00 148.51 L217.50 148.58 L219.60 148.59 L221.60 148.61 L223.60 148.58 L225.60 148.60 L227.60 148.58 L229.60 148.60 L231.60 148.58 L233.60 148.58 L235.60 148.58 L237.10 148.57 L237.49 148.50 L237.79 148.40 L237.99 148.26 L238.10 148.07 L238.14 148.04 L238.29 147.69 L238.39 147.56 L238.60 147.58 L238.69 147.72 L238.84 148.03 L238.99 148.25 L239.10 148.36 L239.19 148.40 L239.49 148.53 L239.60 148.50 L240.09 148.58 L242.10 148.57 L244.10 148.59 L246.10 148.60 L248.10 148.59 L250.10 148.55 L250.79 148.56 L250.99 148.48 L251.29 148.40 L251.49 148.32 L251.69 148.39 L251.84 148.47 L252.10 148.55 L254.10 148.56 L254.99 148.48 L255.10 148.44 L255.29 148.37 L255.49 148.19 L255.60 148.00 L255.64 147.95 L255.79 147.60 L255.89 147.44 L255.99 147.32 L256.09 147.40 L256.10 147.42 L256.19 147.61 L256.34 147.94 L256.49 148.23 L256.60 148.32 L256.69 148.37 L256.99 148.50 L257.59 148.57 L259.60 148.61 L261.60 148.57 L263.60 148.62 L265.60 148.61 L267.60 148.58 L269.60 148.59 L271.10 148.57 L271.51 148.50 L271.81 148.45 L272.01 148.23 L272.10 148.10 L272.16 148.02 L272.31 147.74 L272.41 147.53 L272.51 147.49 L272.60 147.56 L272.61 147.56 L272.71 147.70 L272.86 147.98 L273.01 148.25 L273.10 148.34 L273.21 148.44 L273.51 148.52 L273.60 148.49 L274.10 148.56 L276.10 148.58 L278.10 148.58 L279.60 148.60" fill="none" stroke="#10f020" stroke-width="1.05" stroke-linejoin="round"/>
<text x="276.8" y="142.0" text-anchor="end" font-family='"Liberation Serif", serif' font-weight="700" font-size="7.3" fill="#111" stroke="#111" stroke-width="0.2">8 wt% LiCl/ZHS</text>
<path d="M47.10 167.39 L49.10 167.40 L51.10 167.39 L51.41 167.32 L51.96 167.30 L52.10 167.37 L54.10 167.41 L56.10 167.38 L58.10 167.40 L60.10 167.37 L62.10 167.35 L62.60 167.30 L62.90 167.20 L63.10 167.07 L63.25 166.84 L63.40 166.50 L63.50 166.36 L63.60 166.29 L63.70 166.37 L63.80 166.48 L63.95 166.82 L64.10 167.02 L64.30 167.19 L64.60 167.30 L65.10 167.37 L67.10 167.37 L69.10 167.35 L71.10 167.35 L72.10 167.28 L72.51 167.21 L73.10 167.16 L73.31 167.09 L73.60 166.95 L73.91 166.63 L74.10 166.30 L74.21 165.95 L74.41 164.58 L74.56 162.64 L74.60 161.99 L74.71 160.21 L74.81 158.94 L74.91 158.49 L75.01 158.99 L75.10 160.11 L75.11 160.26 L75.26 162.68 L75.41 164.65 L75.60 165.91 L75.61 165.95 L75.91 166.65 L76.10 166.82 L76.51 167.09 L76.60 167.07 L77.10 167.22 L77.60 167.29 L79.10 167.37 L81.10 167.35 L83.10 167.37 L85.10 167.42 L87.10 167.41 L89.10 167.38 L91.10 167.41 L93.10 167.37 L95.10 167.40 L97.10 167.39 L99.10 167.41 L101.10 167.38 L103.10 167.38 L105.10 167.40 L107.10 167.36 L107.50 167.30 L108.30 167.24 L108.60 167.18 L108.90 167.05 L109.10 166.91 L109.20 166.78 L109.40 166.17 L109.55 165.30 L109.60 164.92 L109.70 164.21 L109.80 163.64 L109.90 163.40 L110.00 163.59 L110.10 164.17 L110.25 165.28 L110.40 166.12 L110.60 166.77 L110.90 167.09 L111.10 167.16 L111.50 167.26 L111.60 167.25 L112.10 167.32 L114.10 167.40 L116.10 167.37 L118.10 167.41 L120.10 167.39 L122.10 167.37 L123.60 167.40 L123.82 167.33 L124.02 167.34 L124.10 167.26 L124.17 167.26 L124.32 167.17 L124.72 167.18 L124.87 167.28 L125.22 167.37 L127.60 167.39 L129.60 167.38 L129.79 167.34 L129.99 167.26 L130.14 167.21 L130.29 167.08 L130.49 167.01 L130.69 167.10 L130.84 167.19 L130.99 167.27 L131.19 167.33 L131.49 167.39 L133.60 167.41 L135.60 167.39 L135.70 167.37 L136.10 167.31 L136.30 167.32 L136.60 167.22 L136.80 167.11 L136.95 166.86 L137.10 166.60 L137.20 166.47 L137.30 166.39 L137.40 166.47 L137.50 166.63 L137.60 166.76 L137.65 166.88 L137.80 167.11 L138.00 167.27 L138.60 167.37 L140.60 167.38 L142.60 167.38 L144.60 167.42 L146.60 167.41 L148.60 167.39 L149.54 167.39 L149.60 167.32 L150.04 167.24 L150.24 167.28 L150.39 167.35 L151.10 167.41 L153.10 167.43 L155.10 167.39 L157.10 167.38 L159.10 167.39 L159.80 167.30 L160.10 167.28 L160.30 167.13 L160.45 166.94 L160.60 166.67 L160.70 166.55 L160.90 166.51 L161.00 166.66 L161.10 166.81 L161.15 166.88 L161.30 167.12 L161.50 167.22 L161.60 167.29 L162.10 167.33 L162.40 167.39 L164.60 167.39 L166.60 167.40 L168.60 167.39 L170.60 167.42 L172.60 167.41 L174.60 167.39 L176.60 167.35 L177.10 167.29 L177.31 167.22 L177.86 167.26 L178.01 167.34 L180.10 167.37 L181.10 167.28 L181.51 167.18 L181.60 167.17 L181.81 166.97 L182.01 166.56 L182.10 166.27 L182.16 166.03 L182.31 165.31 L182.41 164.95 L182.51 164.82 L182.60 164.91 L182.61 164.96 L182.71 165.29 L182.86 166.03 L183.01 166.58 L183.10 166.77 L183.21 166.96 L183.51 167.16 L183.60 167.20 L184.10 167.29 L184.91 167.37 L187.10 167.37 L189.10 167.42 L191.10 167.42 L193.10 167.43 L195.10 167.37 L197.10 167.37 L199.10 167.39 L200.60 167.36 L201.10 167.30 L201.20 167.29 L201.50 167.13 L201.60 167.03 L201.70 166.91 L201.85 166.53 L202.00 166.09 L202.10 165.88 L202.20 165.77 L202.30 165.87 L202.40 166.06 L202.55 166.52 L202.60 166.68 L202.70 166.90 L202.90 167.12 L203.10 167.24 L203.20 167.25 L203.60 167.34 L205.60 167.40 L207.60 167.42 L209.60 167.41 L211.60 167.41 L213.60 167.42 L215.60 167.37 L216.15 167.29 L216.60 167.22 L216.85 167.29 L217.20 167.38 L219.60 167.40 L221.60 167.42 L223.60 167.41 L225.60 167.42 L227.60 167.41 L229.60 167.40 L231.60 167.40 L233.60 167.42 L235.60 167.36 L237.60 167.32 L237.79 167.28 L237.99 167.20 L238.10 167.12 L238.14 167.05 L238.29 166.89 L238.39 166.74 L238.60 166.76 L238.69 166.88 L238.84 167.07 L238.99 167.21 L239.10 167.28 L239.60 167.37 L241.60 167.41 L243.60 167.37 L245.60 167.39 L247.60 167.38 L249.60 167.40 L250.79 167.39 L250.99 167.32 L251.14 167.33 L251.29 167.25 L251.69 167.25 L251.84 167.31 L251.99 167.37 L254.10 167.38 L255.10 167.34 L255.29 167.25 L255.49 167.16 L255.60 167.04 L255.64 166.97 L255.79 166.77 L255.89 166.70 L255.99 166.62 L256.10 166.66 L256.19 166.78 L256.34 166.98 L256.49 167.14 L256.60 167.25 L256.69 167.27 L256.99 167.34 L257.10 167.33 L257.59 167.39 L259.60 167.37 L261.60 167.39 L263.60 167.39 L265.60 167.38 L267.60 167.41 L269.60 167.41 L271.60 167.32 L271.81 167.27 L272.01 167.20 L272.10 167.10 L272.16 167.02 L272.31 166.87 L272.41 166.75 L272.61 166.75 L272.71 166.86 L272.86 167.07 L273.01 167.18 L273.10 167.23 L273.21 167.29 L273.60 167.36 L275.60 167.37 L277.60 167.39 L279.60 167.42" fill="none" stroke="#ff1818" stroke-width="1.05" stroke-linejoin="round"/>
<text x="276.8" y="160.8" text-anchor="end" font-family='"Liberation Serif", serif' font-weight="700" font-size="7.3" fill="#111" stroke="#111" stroke-width="0.2">ZHS</text>
<text transform="translate(53.7 71.0) rotate(-90) scale(1.13 1)" font-family='"Liberation Serif", serif' font-size="6.8" fill="#111" stroke="#111" stroke-width="0.1">(110)</text>
<text transform="translate(66.1 69.6) rotate(-90) scale(1.13 1)" font-family='"Liberation Serif", serif' font-size="6.8" fill="#111" stroke="#111" stroke-width="0.1">(111)</text>
<text transform="translate(77.3 54.2) rotate(-90) scale(1.13 1)" font-family='"Liberation Serif", serif' font-size="6.8" fill="#111" stroke="#111" stroke-width="0.1">(200)</text>
<text transform="translate(112.0 61.7) rotate(-90) scale(1.13 1)" font-family='"Liberation Serif", serif' font-size="6.8" fill="#111" stroke="#111" stroke-width="0.1">(220)</text>
<text transform="translate(126.0 71.0) rotate(-90) scale(1.13 1)" font-family='"Liberation Serif", serif' font-size="6.8" fill="#111" stroke="#111" stroke-width="0.1">(310)</text>
<text transform="translate(132.4 70.2) rotate(-90) scale(1.13 1)" font-family='"Liberation Serif", serif' font-size="6.8" fill="#111" stroke="#111" stroke-width="0.1">(311)</text>
<text transform="translate(139.4 68.3) rotate(-90) scale(1.13 1)" font-family='"Liberation Serif", serif' font-size="6.8" fill="#111" stroke="#111" stroke-width="0.1">(222)</text>
<text transform="translate(162.0 67.8) rotate(-90) scale(1.13 1)" font-family='"Liberation Serif", serif' font-size="6.8" fill="#111" stroke="#111" stroke-width="0.1">(400)</text>
<text transform="translate(178.7 71.4) rotate(-90) scale(1.13 1)" font-family='"Liberation Serif", serif' font-size="6.8" fill="#111" stroke="#111" stroke-width="0.1">(331)</text>
<text transform="translate(184.8 63.4) rotate(-90) scale(1.13 1)" font-family='"Liberation Serif", serif' font-size="6.8" fill="#111" stroke="#111" stroke-width="0.1">(420)</text>
<text transform="translate(204.4 65.4) rotate(-90) scale(1.13 1)" font-family='"Liberation Serif", serif' font-size="6.8" fill="#111" stroke="#111" stroke-width="0.1">(422)</text>
<text transform="translate(218.7 70.9) rotate(-90) scale(1.13 1)" font-family='"Liberation Serif", serif' font-size="6.8" fill="#111" stroke="#111" stroke-width="0.1">(511)</text>
<text transform="translate(240.5 70.1) rotate(-90) scale(1.13 1)" font-family='"Liberation Serif", serif' font-size="6.8" fill="#111" stroke="#111" stroke-width="0.1">(440)</text>
<text transform="translate(252.6 70.8) rotate(-90) scale(1.13 1)" font-family='"Liberation Serif", serif' font-size="6.8" fill="#111" stroke="#111" stroke-width="0.1">(531)</text>
<text transform="translate(258.6 69.6) rotate(-90) scale(1.13 1)" font-family='"Liberation Serif", serif' font-size="6.8" fill="#111" stroke="#111" stroke-width="0.1">(600)</text>
<text transform="translate(274.6 70.0) rotate(-90) scale(1.13 1)" font-family='"Liberation Serif", serif' font-size="6.8" fill="#111" stroke="#111" stroke-width="0.1">(620)</text>
<rect x="46.50" y="18.90" width="234.00" height="176.60" fill="none" stroke="#000" stroke-width="1.05"/>
<line x1="64.00" y1="195.50" x2="64.00" y2="198.90" stroke="#000" stroke-width="1.1"/>
<line x1="100.00" y1="195.50" x2="100.00" y2="198.90" stroke="#000" stroke-width="1.1"/>
<line x1="136.00" y1="195.50" x2="136.00" y2="198.90" stroke="#000" stroke-width="1.1"/>
<line x1="172.00" y1="195.50" x2="172.00" y2="198.90" stroke="#000" stroke-width="1.1"/>
<line x1="208.00" y1="195.50" x2="208.00" y2="198.90" stroke="#000" stroke-width="1.1"/>
<line x1="244.00" y1="195.50" x2="244.00" y2="198.90" stroke="#000" stroke-width="1.1"/>
<line x1="82.00" y1="195.50" x2="82.00" y2="197.90" stroke="#000" stroke-width="1.1"/>
<line x1="118.00" y1="195.50" x2="118.00" y2="197.90" stroke="#000" stroke-width="1.1"/>
<line x1="154.00" y1="195.50" x2="154.00" y2="197.90" stroke="#000" stroke-width="1.1"/>
<line x1="190.00" y1="195.50" x2="190.00" y2="197.90" stroke="#000" stroke-width="1.1"/>
<line x1="226.00" y1="195.50" x2="226.00" y2="197.90" stroke="#000" stroke-width="1.1"/>
<line x1="262.00" y1="195.50" x2="262.00" y2="197.90" stroke="#000" stroke-width="1.1"/>
<text x="64.00" y="210.7" text-anchor="middle" font-family='"Liberation Serif", serif' font-weight="700" font-size="11.6" fill="#000">20</text>
<text x="100.00" y="210.7" text-anchor="middle" font-family='"Liberation Serif", serif' font-weight="700" font-size="11.6" fill="#000">30</text>
<text x="136.00" y="210.7" text-anchor="middle" font-family='"Liberation Serif", serif' font-weight="700" font-size="11.6" fill="#000">40</text>
<text x="172.00" y="210.7" text-anchor="middle" font-family='"Liberation Serif", serif' font-weight="700" font-size="11.6" fill="#000">50</text>
<text x="208.00" y="210.7" text-anchor="middle" font-family='"Liberation Serif", serif' font-weight="700" font-size="11.6" fill="#000">60</text>
<text x="244.00" y="210.7" text-anchor="middle" font-family='"Liberation Serif", serif' font-weight="700" font-size="11.6" fill="#000">70</text>
<text x="280.00" y="210.7" text-anchor="middle" font-family='"Liberation Serif", serif' font-weight="700" font-size="11.6" fill="#000">80</text>
<text x="163.6" y="229.7" text-anchor="middle" font-family='"Liberation Serif", serif' font-weight="700" font-size="11.6" fill="#000">2 Theta (degree)</text>
<text transform="translate(29.3 114) rotate(-90)" text-anchor="middle" font-family='"Liberation Serif", serif' font-weight="700" font-size="12.1" fill="#000">Intensify (a.u.)</text>
<text x="164.2" y="178.1" textLength="33.6" lengthAdjust="spacingAndGlyphs" font-family='"Liberation Serif", serif' font-weight="700" font-size="7.45" fill="#111" stroke="#111" stroke-width="0.2">ZnSn(OH)<tspan font-size="4.4" dy="1.6">6</tspan></text>
<line x1="199" y1="174.8" x2="212.6" y2="174.8" stroke="#222" stroke-width="1"/>
<text x="216.6" y="178.1" font-family='"Liberation Serif", serif' font-weight="700" font-size="7.45" fill="#111" stroke="#111" stroke-width="0.2">JCPDS No.20-1455</text>
<text x="197.2" y="187.1" text-anchor="end" font-family='"Liberation Serif", serif' font-weight="700" font-size="7.45" fill="#111" stroke="#111" stroke-width="0.2">LiCl</text>
<line x1="199" y1="183.6" x2="212.6" y2="183.6" stroke="#9a30ff" stroke-width="1.2"/>
<text x="216.6" y="187.1" font-family='"Liberation Serif", serif' font-weight="700" font-size="7.45" fill="#111" stroke="#111" stroke-width="0.2">JCPDS No.04-0664</text>
</g>
<g id="panel-b">
<text x="286.2" y="18.6" font-family='"Liberation Serif", serif' font-weight="700" font-size="14.8" fill="#000">(b)</text>
<rect x="314.70" y="19.00" width="225.30" height="179.20" fill="#07366b"/>
<path d="M317.50 198.20 L317.80 176.00 L318.30 152.00 L319.10 100.00 L319.40 19.00 L320.60 19.00 L320.90 100.00 L321.30 152.00 L321.30 190.00 L321.70 193.00 L322.60 192.40 L322.90 188.00 L323.20 176.00 L323.30 156.00 L324.20 152.50 L324.40 146.50 L325.30 146.50 L325.50 152.50 L326.00 155.00 L326.10 164.00 L327.00 165.00 L327.80 166.50 L328.30 152.00 L328.60 104.00 L328.80 19.00 L330.50 19.00 L331.20 70.00 L331.50 104.00 L331.80 152.00 L332.10 176.00 L332.30 185.00 L333.00 186.00 L334.50 186.00 L334.80 184.00 L336.00 184.00 L336.30 176.00 L336.90 165.00 L337.60 152.00 L338.20 110.00 L338.90 75.00 L339.10 19.00 L340.70 19.00 L341.00 75.00 L341.40 110.00 L342.00 152.00 L342.30 176.00 L342.60 183.00 L343.20 183.50 L344.50 183.50 L345.00 182.00 L347.40 182.00 L348.00 179.50 L348.70 174.00 L349.30 170.60 L349.90 174.00 L350.50 179.00 L351.50 180.40 L354.00 181.00 L356.00 180.50 L357.50 180.00 L358.40 178.00 L359.00 172.00 L359.50 168.00 L360.20 161.00 L360.80 158.00 L361.40 161.00 L362.10 168.00 L362.80 176.00 L363.50 179.40 L364.50 180.50 L368.00 181.00 L370.00 180.50 L370.80 178.50 L371.20 175.00 L371.60 172.00 L372.00 171.50 L372.60 173.00 L373.40 175.00 L374.20 176.40 L374.60 180.00 L375.20 183.00 L378.50 183.00 L379.20 180.00 L379.60 176.50 L380.40 175.40 L381.20 176.50 L381.60 180.00 L382.00 183.50 L384.00 183.50 L384.60 181.00 L385.00 178.00 L385.50 174.00 L386.20 152.00 L386.70 135.00 L386.90 104.00 L387.20 19.00 L390.00 19.00 L390.20 80.00 L390.70 104.00 L391.00 158.00 L391.35 158.00 L391.60 100.00 L392.20 81.00 L392.60 79.00 L393.70 79.00 L394.00 84.00 L394.20 110.00 L395.00 130.00 L395.30 152.00 L395.80 157.00 L396.20 160.00 L396.50 167.00 L396.90 163.00 L397.60 161.50 L398.40 162.00 L399.00 166.00 L399.40 172.00 L399.70 176.00 L400.30 179.00 L401.00 179.60 L401.80 178.00 L402.60 177.40 L403.40 178.40 L403.80 181.00 L404.50 185.00 L405.20 186.00 L407.00 186.60 L410.00 188.50 L413.00 190.20 L417.00 190.40 L420.00 190.40 L421.00 190.40 L421.50 190.85 L422.00 190.83 L422.50 190.26 L423.00 190.11 L423.50 190.87 L424.00 190.98 L424.50 190.20 L425.00 191.16 L425.50 191.35 L426.00 190.60 L426.50 190.56 L427.00 191.05 L427.50 191.39 L428.00 190.40 L428.50 190.57 L429.00 190.65 L429.50 191.24 L430.00 190.51 L430.50 191.05 L431.00 191.02 L431.50 191.28 L432.00 190.58 L432.50 191.75 L433.00 191.84 L433.50 191.26 L434.00 191.62 L434.50 190.80 L435.00 191.85 L435.50 191.38 L436.00 191.70 L436.50 191.89 L437.00 191.21 L437.50 192.03 L438.00 191.06 L438.50 190.84 L439.00 191.54 L439.50 192.13 L440.00 192.16 L440.50 192.27 L441.00 191.68 L441.50 192.30 L442.00 191.81 L442.50 191.26 L443.00 191.98 L443.50 192.25 L444.00 191.75 L444.50 192.04 L445.00 191.59 L445.50 191.64 L446.00 191.88 L446.50 192.04 L447.00 192.01 L447.50 191.52 L448.00 191.43 L448.50 191.93 L449.00 192.49 L449.50 192.57 L450.00 191.88 L450.50 191.94 L451.00 192.34 L451.50 191.89 L452.00 192.52 L452.50 192.98 L453.00 192.03 L453.50 192.60 L454.00 192.82 L454.50 192.89 L455.00 192.87 L455.50 192.90 L456.00 192.32 L456.50 193.15 L457.00 193.30 L457.50 192.11 L458.00 193.39 L458.50 192.72 L459.00 192.26 L459.50 192.26 L460.00 193.32 L460.50 193.18 L461.00 192.46 L461.50 192.94 L462.00 193.22 L462.50 193.76 L463.00 192.87 L463.50 193.50 L464.00 192.80 L464.50 192.77 L465.00 192.75 L465.50 193.13 L466.00 193.46 L466.50 193.05 L467.00 192.88 L467.50 192.99 L468.00 192.84 L468.50 193.02 L469.00 193.23 L469.50 193.52 L470.00 193.11 L470.50 193.55 L471.00 193.53 L471.50 194.31 L472.00 193.66 L472.50 194.34 L473.00 193.70 L473.50 193.35 L474.00 193.94 L474.50 193.35 L475.00 193.41 L475.50 193.31 L476.00 194.22 L476.50 194.63 L477.00 193.87 L477.50 193.83 L478.00 193.97 L478.50 193.90 L479.00 194.40 L479.50 194.02 L480.00 193.71 L480.50 194.72 L481.00 194.31 L481.50 193.53 L482.00 194.72 L482.50 194.55 L483.00 194.04 L483.50 194.43 L484.00 194.84 L484.50 194.12 L485.00 194.17 L485.50 193.99 L486.00 194.35 L486.50 194.48 L487.00 194.50 L487.50 194.55 L488.00 192.77 L488.50 191.58 L489.00 189.31 L489.50 184.14 L490.00 176.37 L490.50 167.16 L491.00 157.19 L491.50 150.83 L492.00 147.57 L492.50 150.07 L493.00 156.98 L493.50 166.39 L494.00 176.83 L494.50 184.21 L495.00 188.22 L495.50 191.61 L496.00 193.34 L496.50 194.03 L497.00 194.11 L497.50 194.95 L498.00 194.22 L498.50 194.49 L499.00 195.05 L499.50 194.65 L500.00 194.43 L500.50 194.24 L501.00 194.32 L501.50 194.64 L502.00 194.89 L502.50 194.16 L503.00 194.33 L503.50 194.36 L504.00 194.33 L504.50 195.10 L505.00 194.59 L505.50 194.22 L506.00 194.30 L506.50 194.97 L507.00 193.97 L507.50 194.52 L508.00 193.17 L508.50 192.63 L509.00 191.23 L509.50 190.70 L510.00 188.18 L510.50 187.14 L511.00 186.60 L511.50 187.57 L512.00 189.62 L512.50 191.26 L513.00 193.00 L513.50 194.11 L514.00 194.19 L514.50 195.04 L515.00 194.02 L515.50 195.25 L516.00 194.58 L516.50 194.26 L517.00 195.04 L517.50 195.20 L518.00 194.55 L518.50 194.14 L519.00 195.24 L519.50 195.08 L520.00 194.87 L520.50 195.41 L521.00 194.10 L521.50 194.13 L522.00 194.23 L522.50 194.10 L523.00 195.06 L523.50 194.96 L524.00 194.24 L524.50 194.32 L525.00 194.35 L525.50 194.96 L526.00 195.05 L526.50 195.48 L527.00 194.63 L527.50 195.50 L528.00 194.75 L528.50 194.69 L529.00 194.51 L529.50 194.49 L530.00 195.53 L530.50 195.57 L531.00 195.17 L531.50 194.43 L532.00 194.45 L532.50 194.41 L533.00 194.70 L533.50 195.25 L534.00 194.30 L534.50 194.97 L535.00 195.19 L535.50 194.29 L536.00 194.86 L536.50 195.36 L537.00 195.07 L537.50 194.90 L538.00 195.51 L538.50 195.12 L539.00 194.76 L539.50 194.85 L540.00 195.62 L540.00 198.20 Z" fill="#ffff00" stroke="none"/>
<path d="M318.4 198.2 L318.5 150 L319.3 19.0 L319.75 19.0 L319.7 198.2 Z" fill="#8f8a10" fill-opacity="0.75"/>
<ellipse cx="329.2" cy="29.5" rx="4.40" ry="4.40" fill="#b9bfce" stroke="#cdd2de" stroke-width="0.8"/>
<text x="329.2" y="31.9" text-anchor="middle" font-family='"Liberation Sans", sans-serif' font-size="6.6" fill="#fff" fill-opacity="1.00">O</text>
<ellipse cx="339.6" cy="25.8" rx="4.60" ry="4.40" fill="#b9bfce" stroke="#cdd2de" stroke-width="0.8"/>
<text x="339.6" y="28.2" text-anchor="middle" font-family='"Liberation Sans", sans-serif' font-size="6.6" fill="#fff" fill-opacity="1.00">Zn</text>
<ellipse cx="388.0" cy="25.4" rx="5.10" ry="4.60" fill="#b9bfce" stroke="#cdd2de" stroke-width="0.8"/>
<text x="388.0" y="27.8" text-anchor="middle" font-family='"Liberation Sans", sans-serif' font-size="6.6" fill="#fff" fill-opacity="1.00">Sn</text>
<line x1="322.8" y1="74.1" x2="322.8" y2="77.1" stroke="#b4bbcb" stroke-width="0.9"/>
<ellipse cx="322.8" cy="70.2" rx="3.90" ry="4.00" fill="#b9bfce" stroke="#cdd2de" stroke-width="0.8"/>
<text x="322.8" y="72.3" text-anchor="middle" font-family='"Liberation Sans", sans-serif' font-size="5.8" fill="#fff" fill-opacity="1.00">Cl</text>
<line x1="393.9" y1="79.0" x2="393.9" y2="80.5" stroke="#b4bbcb" stroke-width="0.9"/>
<ellipse cx="393.9" cy="74.5" rx="3.80" ry="4.60" fill="#b9bfce" stroke="#cdd2de" stroke-width="0.8"/>
<text x="393.9" y="76.4" text-anchor="middle" font-family='"Liberation Sans", sans-serif' font-size="5.4" fill="#fff" fill-opacity="0.70">Sn</text>
<line x1="324.8" y1="144.0" x2="324.8" y2="147.0" stroke="#b4bbcb" stroke-width="0.9"/>
<ellipse cx="324.8" cy="139.8" rx="3.50" ry="4.30" fill="#b9bfce" stroke="#cdd2de" stroke-width="0.8"/>
<text x="324.8" y="141.7" text-anchor="middle" font-family='"Liberation Sans", sans-serif' font-size="5.2" fill="#fff" fill-opacity="0.70">Cl</text>
<line x1="349.0" y1="168.9" x2="349.0" y2="170.4" stroke="#b4bbcb" stroke-width="0.9"/>
<ellipse cx="349.0" cy="165.2" rx="3.85" ry="3.85" fill="#b9bfce" stroke="#cdd2de" stroke-width="0.8"/>
<text x="349.0" y="167.1" text-anchor="middle" font-family='"Liberation Sans", sans-serif' font-size="5.4" fill="#fff" fill-opacity="0.80">Zn</text>
<line x1="371.6" y1="169.6" x2="371.6" y2="171.1" stroke="#b4bbcb" stroke-width="0.9"/>
<ellipse cx="371.6" cy="165.4" rx="4.30" ry="4.30" fill="#b9bfce" stroke="#cdd2de" stroke-width="0.8"/>
<text x="371.6" y="167.4" text-anchor="middle" font-family='"Liberation Sans", sans-serif' font-size="5.6" fill="#fff" fill-opacity="0.80">Cl</text>
<line x1="400.0" y1="158.8" x2="400.0" y2="161.3" stroke="#b4bbcb" stroke-width="0.9"/>
<ellipse cx="400.0" cy="155.0" rx="3.90" ry="3.90" fill="#b9bfce" stroke="#cdd2de" stroke-width="0.8"/>
<text x="400.0" y="156.9" text-anchor="middle" font-family='"Liberation Sans", sans-serif' font-size="5.4" fill="#fff" fill-opacity="0.80">Sn</text>
<line x1="409.5" y1="183.2" x2="409.5" y2="185.7" stroke="#b4bbcb" stroke-width="0.9"/>
<ellipse cx="409.5" cy="179.4" rx="3.90" ry="3.90" fill="#b9bfce" stroke="#cdd2de" stroke-width="0.8"/>
<text x="409.5" y="181.3" text-anchor="middle" font-family='"Liberation Sans", sans-serif' font-size="5.4" fill="#fff" fill-opacity="0.80">Sn</text>
<line x1="492.0" y1="144.1" x2="492.0" y2="147.6" stroke="#b4bbcb" stroke-width="0.9"/>
<ellipse cx="492.0" cy="139.6" rx="5.30" ry="4.60" fill="#b9bfce" stroke="#cdd2de" stroke-width="0.8"/>
<text x="492.0" y="142.0" text-anchor="middle" font-family='"Liberation Sans", sans-serif' font-size="6.6" fill="#fff" fill-opacity="1.00">Zn</text>
<line x1="510.8" y1="184.4" x2="510.8" y2="187.4" stroke="#b4bbcb" stroke-width="0.9"/>
<ellipse cx="510.8" cy="180.0" rx="5.00" ry="4.50" fill="#b9bfce" stroke="#cdd2de" stroke-width="0.8"/>
<text x="510.8" y="182.3" text-anchor="middle" font-family='"Liberation Sans", sans-serif' font-size="6.4" fill="#fff" fill-opacity="0.95">Zn</text>
<line x1="314.70" y1="198.7" x2="540.50" y2="198.7" stroke="#222" stroke-width="1"/>
<path d="M315.29 199 v1.5M319.30 199 v1.5M323.31 199 v1.5M327.32 199 v1.5M331.33 199 v1.5M335.34 199 v1.5M339.35 199 v1.5M343.36 199 v1.5M347.37 199 v1.5M351.38 199 v1.5M355.39 199 v1.5M359.40 199 v1.5M363.41 199 v1.5M367.42 199 v1.5M371.43 199 v1.5M375.44 199 v1.5M379.45 199 v1.5M383.46 199 v1.5M387.47 199 v1.5M391.48 199 v1.5M395.49 199 v1.5M399.50 199 v1.5M403.51 199 v1.5M407.52 199 v1.5M411.53 199 v1.5M415.54 199 v1.5M419.55 199 v1.5M423.56 199 v1.5M427.57 199 v1.5M431.58 199 v1.5M435.59 199 v1.5M439.60 199 v1.5M443.61 199 v1.5M447.62 199 v1.5M451.63 199 v1.5M455.64 199 v1.5M459.65 199 v1.5M463.66 199 v1.5M467.67 199 v1.5M471.68 199 v1.5M475.69 199 v1.5M479.70 199 v1.5M483.71 199 v1.5M487.72 199 v1.5M491.73 199 v1.5M495.74 199 v1.5M499.75 199 v1.5M503.76 199 v1.5M507.77 199 v1.5M511.78 199 v1.5M515.79 199 v1.5M519.80 199 v1.5M523.81 199 v1.5M527.82 199 v1.5M531.83 199 v1.5M535.84 199 v1.5M539.85 199 v1.5" stroke="#222" stroke-width="0.8" fill="none"/>
<path d="M319.30 199 v2M359.40 199 v2M399.50 199 v2M439.60 199 v2M479.70 199 v2M519.80 199 v2" stroke="#222" stroke-width="0.9" fill="none"/>
<line x1="314.7" y1="198" x2="314.7" y2="210.5" stroke="#4c6596" stroke-width="0.9"/>
<text x="318.60" y="209.6" text-anchor="middle" font-family='"Liberation Sans", sans-serif' font-size="7.3" fill="#1c1c1c" stroke="#1c1c1c" stroke-width="0.2">0</text>
<text x="358.70" y="209.6" text-anchor="middle" font-family='"Liberation Sans", sans-serif' font-size="7.3" fill="#1c1c1c" stroke="#1c1c1c" stroke-width="0.2">2</text>
<text x="398.80" y="209.6" text-anchor="middle" font-family='"Liberation Sans", sans-serif' font-size="7.3" fill="#1c1c1c" stroke="#1c1c1c" stroke-width="0.2">4</text>
<text x="438.90" y="209.6" text-anchor="middle" font-family='"Liberation Sans", sans-serif' font-size="7.3" fill="#1c1c1c" stroke="#1c1c1c" stroke-width="0.2">6</text>
<text x="479.00" y="209.6" text-anchor="middle" font-family='"Liberation Sans", sans-serif' font-size="7.3" fill="#1c1c1c" stroke="#1c1c1c" stroke-width="0.2">8</text>
<text x="519.10" y="209.6" text-anchor="middle" font-family='"Liberation Sans", sans-serif' font-size="7.3" fill="#1c1c1c" stroke="#1c1c1c" stroke-width="0.2">10</text>
<text x="397.5" y="230.4" textLength="65.8" lengthAdjust="spacingAndGlyphs" font-family='"Liberation Serif", serif' font-weight="700" font-size="11.7" fill="#000">Energy (KeV)</text>
</g>
</svg>
</body>
</html>
